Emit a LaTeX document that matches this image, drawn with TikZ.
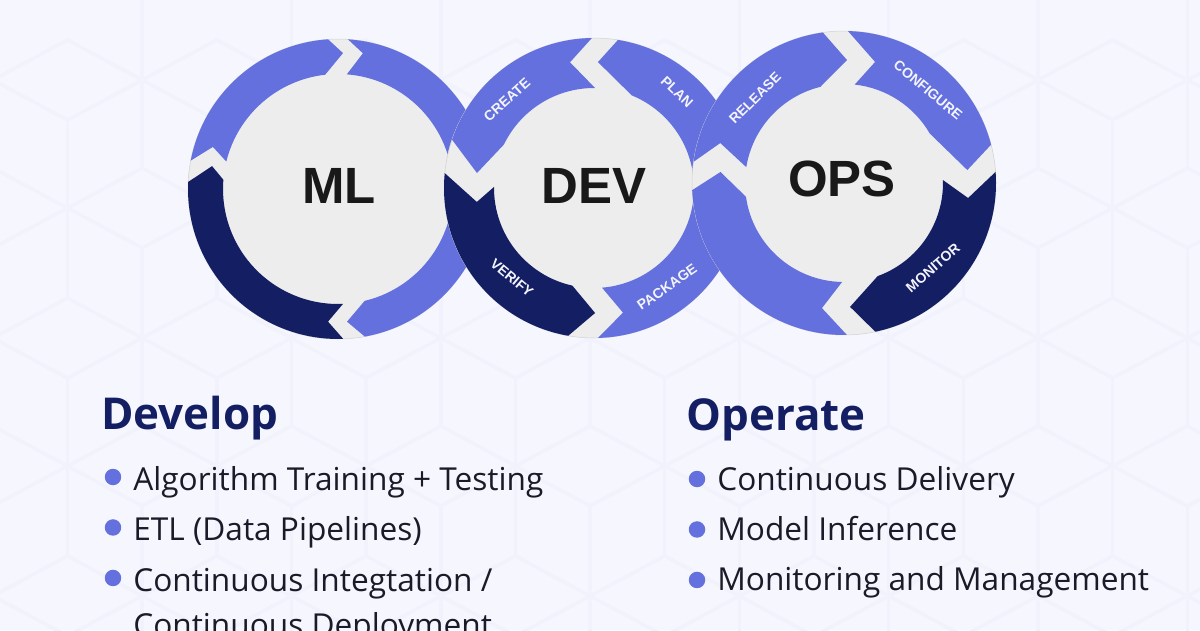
\documentclass[tikz,border=0pt]{standalone}
\usepackage{xcolor}
\usepackage{fontspec}
\setmainfont{Open Sans}
\newfontfamily\ringfont{Liberation Sans}
\usepackage{tikz}
\definecolor{pageBg}{HTML}{F6F7FE}
\definecolor{hexLine}{HTML}{F1F2FB}
\definecolor{segLight}{HTML}{6370DE}
\definecolor{segDark}{HTML}{141E63}
\definecolor{hubGray}{HTML}{EDEDED}
\definecolor{bodyInk}{HTML}{1A1A28}
\tikzstyle{hub} = [circle, inner sep=0pt, fill=hubGray, draw=gray!35, line width=0.3pt]
\tikzstyle{hubTitle} = [inner sep=0pt, text=black!90, font=\ringfont\bfseries\fontsize{29}{32}\selectfont]
\tikzstyle{segText} = [inner sep=0pt, text=white!92!segLight, font=\ringfont\bfseries\fontsize{8}{9}\selectfont]
\tikzstyle{heading} = [inner sep=0pt, anchor=base west, text=segDark, font=\bfseries\fontsize{25}{28}\selectfont]
\tikzstyle{bulletDot} = [circle, inner sep=0pt, minimum size=0.33cm, fill=segLight]
\tikzstyle{bulletText} = [inner sep=0pt, text height=0.6cm, text depth=0.16cm, text=bodyInk, font=\fontsize{18}{20}\selectfont]
\begin{document}
\begin{tikzpicture}[x=0.02cm, y=0.02cm, node distance=1.01cm]
\useasboundingbox (0,0) rectangle (1200,630);
\clip (0,0) rectangle (1200,630);
\fill[pageBg] (0,0) rectangle (1200,630);

\foreach \k in {-1,...,8} {
  \foreach \py in {80,338,596} {
    \draw[hexLine, line width=2pt] ({67.5+149.3*\k},{630-\py+40}) -- ++(74.6,-40) -- ++(-74.6,-40) -- ++(-74.6,40) -- cycle;
    \draw[hexLine, line width=2pt] ({67.5+149.3*\k},{630-\py-40}) -- ++(0,-178);
  }
  \foreach \py in {-50,208,466} {
    \draw[hexLine, line width=2pt] ({142.2+149.3*\k},{630-\py+40}) -- ++(74.6,-40) -- ++(-74.6,-40) -- ++(-74.6,40) -- cycle;
    \draw[hexLine, line width=2pt] ({142.2+149.3*\k},{630-\py-40}) -- ++(0,-178);
  }
}

\node (mlHub) [hub, minimum size=6cm] at (338,441) {};
\begin{scope}[shift={(mlHub.center)}]
\fill[segLight] (169.1:150) arc[start angle=169.1, end angle=93.8, radius=150] -- (87.9:136) -- (96.4:115) arc[start angle=96.4, end angle=166.2, radius=115] -- (161.4:132) -- cycle;
\fill[segLight] (86.2:150) arc[start angle=86.2, end angle=5, radius=150] -- (5:115) arc[start angle=5, end angle=85.6, radius=115] -- (79.6:138) -- cycle;
\fill[segLight] (-79.7:150) arc[start angle=-79.7, end angle=-5, radius=150] -- (-5:115) arc[start angle=-5, end angle=-76.6, radius=115] -- (-86.1:133) -- cycle;
\fill[segDark] (177.3:150) arc[start angle=177.3, end angle=272, radius=150] -- (265.7:133) -- (272.5:115) arc[start angle=272.5, end angle=175.4, radius=115] -- (169.7:128) -- cycle;
\end{scope}

\node (devHub) [hub, minimum size=6cm] at (594,442) {};
\begin{scope}[shift={(devHub.center)}]
\fill[segLight] (161.2:150) arc[start angle=161.2, end angle=90.8, radius=150] -- (100.8:128) -- (89.4:100) arc[start angle=89.4, end angle=154.2, radius=100] -- (172.7:118) -- cycle;
\fill[segLight] (80.8:150) arc[start angle=80.8, end angle=-2, radius=150] -- (-2:100) arc[start angle=-2, end angle=67.8, radius=100] -- (88.2:126) -- cycle;
\fill[segLight] (-88.5:150) arc[start angle=-88.5, end angle=-2, radius=150] -- (-2:100) arc[start angle=-2, end angle=-85.4, radius=100] -- (-76.9:128) -- cycle;
\fill[segDark] (174.3:150) arc[start angle=174.3, end angle=260.1, radius=150] -- (270.5:125) -- (257.5:100) arc[start angle=257.5, end angle=179.4, radius=100] -- (186.8:118) -- cycle;
\end{scope}

\node (opsHub) [hub, minimum size=6.08cm] at (844,447) {};
\begin{scope}[shift={(opsHub.center)}]
\fill[segLight] (172:152) arc[start angle=172, end angle=98, radius=152] -- (88.6:123) -- (103.8:99) arc[start angle=103.8, end angle=170.8, radius=99] -- (162.1:130) -- cycle;
\fill[segLight] (88.5:152) arc[start angle=88.5, end angle=14.6, radius=152] -- (6:124) -- (30:99) arc[start angle=30, end angle=83.8, radius=99] -- (75.6:125) -- cycle;
\fill[segDark] (4.2:152) arc[start angle=4.2, end angle=-78.1, radius=152] -- (-87.2:124) -- (-70.1:99) arc[start angle=-70.1, end angle=1.7, radius=99] -- (-6.9:125) -- cycle;
\fill[segLight] (182.7:152) arc[start angle=182.7, end angle=271.1, radius=152] -- (260:127) -- (268.9:99) arc[start angle=268.9, end angle=188, radius=99] -- (174.9:124) -- cycle;
\end{scope}

\node (mlTitle) [hubTitle] at (339,444) {ML};
\node (devTitle) [hubTitle] at (594,444) {DEV};
\node (opsTitle) [hubTitle] at (842,451) {OPS};

\node (create) [segText, rotate=42] at (507,530) {CREATE};
\node (plan) [segText, rotate=-44] at (677,538) {PLAN};
\node (verify) [segText, rotate=-40] at (512,352) {VERIFY};
\node (package) [segText, rotate=35] at (667,343) {PACKAGE};
\node (release) [segText, rotate=45] at (755,532) {RELEASE};
\node (configure) [segText, rotate=-40] at (928,540) {CONFIGURE};
\node (monitor) [segText, rotate=41] at (933,362) {MONITOR};

\node (develop) [heading] at (101,201) {Develop};
\node (dotTrain) [bulletDot] at (113,153) {};
\node (dotEtl) [bulletDot, below of=dotTrain] {};
\node (dotCi) [bulletDot, below of=dotEtl] {};
\node (stubCd) [inner sep=0pt, below of=dotCi, node distance=0.9cm] {};
\node (textTrain) [bulletText, right of=dotTrain, node distance=0.4cm, anchor=west, yshift=-0.04cm] {Algorithm Training + Testing};
\node (textEtl) [bulletText, right of=dotEtl, node distance=0.4cm, anchor=west, yshift=-0.05cm] {ETL (Data Pipelines)};
\node (textCi) [bulletText, right of=dotCi, node distance=0.4cm, anchor=west, yshift=-0.05cm] {Continuous Integtation /};
\node (textCd) [bulletText, right of=stubCd, node distance=0.4cm, anchor=west, yshift=-0.05cm] {Continuous Deployment};

\node (operate) [heading] at (686,200) {Operate};
\node (dotDelivery) [bulletDot] at (697,151) {};
\node (dotInference) [bulletDot, below of=dotDelivery] {};
\node (dotManage) [bulletDot, below of=dotInference] {};
\node (textDelivery) [bulletText, right of=dotDelivery, node distance=0.4cm, anchor=west] {Continuous Delivery};
\node (textInference) [bulletText, right of=dotInference, node distance=0.4cm, anchor=west] {Model Inference};
\node (textManage) [bulletText, right of=dotManage, node distance=0.4cm, anchor=west] {Monitoring and Management};
\end{tikzpicture}
\end{document}
